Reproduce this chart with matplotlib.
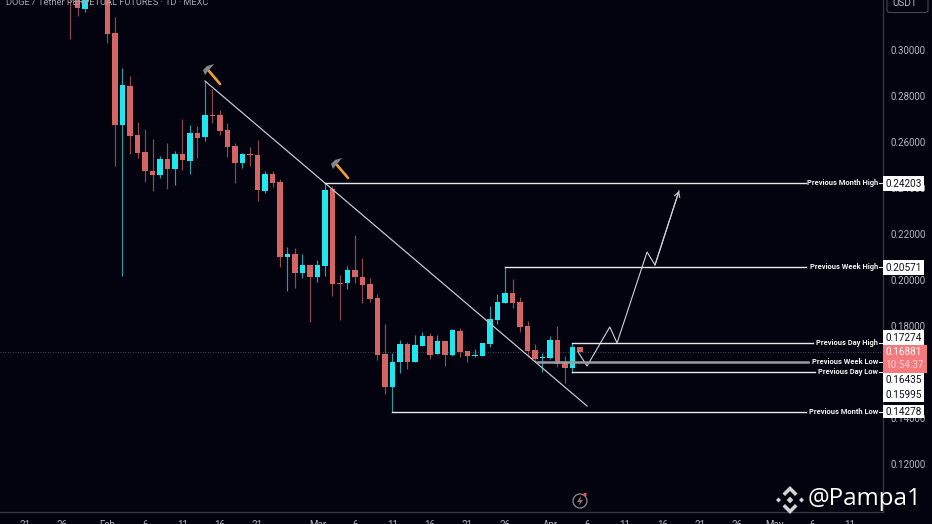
import numpy as np
import matplotlib
matplotlib.use("Agg")
import matplotlib.pyplot as plt
from matplotlib.patches import Polygon, Circle, Rectangle, FancyBboxPatch
from matplotlib.transforms import IdentityTransform, blended_transform_factory

W, H = 932, 524
BG = "#03030f"
days = list(range(6, 75))
opens = [.335,.325,.31783,.33,.345,.335,.30739,.26739,.28435,.26304,.25565,.24739,.24565,.25261,.24826,.25478,.25174,.26391,.26217,.27174,.27174,.26522,.25826,.25087,.25478,.25435,.23870,.24609,.24261,.21000,.21130,.20304,.20652,.20130,.20609,.23957,.19870,.19870,.20435,.20130,.19826,.19217,.16783,.15348,.16435,.17217,.16435,.17130,.17565,.16783,.17348,.16739,.17783,.16913,.16696,.16696,.17217,.18261,.19000,.19435,.19044,.18000,.16957,.16609,.16609,.17391,.16391,.16174,.17087]
highs = [.345,.33,.33,.35,.35,.34,.31435,.29217,.28870,.26870,.26565,.26130,.25391,.25957,.25609,.27000,.26739,.26696,.28652,.28304,.27391,.26826,.25957,.25522,.25783,.26087,.24739,.24739,.24391,.21435,.21391,.21130,.20652,.20870,.24203,.24087,.20217,.20609,.21957,.20957,.20087,.19391,.18087,.16826,.17391,.17304,.17609,.17739,.17696,.17609,.17348,.17870,.17913,.16913,.17000,.17261,.18870,.19391,.20571,.20044,.19261,.18217,.17217,.16826,.17565,.18000,.16696,.17274,.17087]
lows = [.30478,.31478,.31652,.328,.33,.30304,.24957,.20174,.25478,.25304,.24261,.23870,.24435,.23957,.24130,.24783,.24609,.25304,.26043,.26826,.26304,.25348,.24217,.24870,.24957,.23435,.23783,.24043,.20565,.19522,.19652,.20087,.18174,.19913,.20174,.19304,.18261,.19609,.19870,.19000,.19043,.16522,.15043,.14278,.15957,.16130,.16435,.17130,.16565,.16783,.16261,.16696,.16652,.16435,.16652,.16696,.17087,.18087,.19000,.18783,.17739,.16652,.16435,.16000,.16565,.16217,.15522,.15957,.16881]
closes = [.325,.31826,.325,.345,.335,.30696,.26739,.28478,.26261,.25522,.24739,.24565,.25261,.24826,.25478,.25217,.26391,.26174,.27174,.27130,.26478,.25783,.25087,.25478,.25435,.23913,.24609,.24217,.21000,.21130,.20304,.20652,.20130,.20652,.23913,.19826,.19826,.20435,.20130,.19783,.19174,.16739,.15348,.16435,.17217,.16435,.17174,.17565,.16739,.17348,.16739,.17826,.16870,.16696,.16710,.17261,.18304,.19044,.19435,.19000,.17957,.16913,.16565,.16652,.17391,.16348,.16174,.17087,.16881]

level_names = ["Previous Month High", "Previous Week High", "Previous Day High",
               "Previous Week Low", "Previous Day Low", "Previous Month Low"]
level_values = [.24203, .20571, .17274, .16435, .15995, .14278]
level_starts = [40, 64, 73, 68.2, 73, 49]
level_ends = [104.13, 104.13, 105.07, 104.37, 105.33, 104.13]

trend_days = [24, 74.94]
trend_vals = [.28652, .14522]
path_days = [73.74, 74.94, 77.97, 78.94, 82.94, 84.0, 87.2]
path_vals = [.16870, .16261, .17957, .17261, .21217, .20652, .23870]

y_ticks = [.12, .14, .18, .20, .22, .24, .26, .28, .30]
x_ticks = [0, 5, 11, 16, 21, 26, 31, 39, 44, 49, 54, 59, 64, 70, 75, 80, 85, 90, 95, 100, 105, 110]
x_labels = ["21", "26", "Feb", "6", "11", "16", "21", "Mar", "6", "11", "16", "21", "26",
            "Apr", "6", "11", "16", "21", "26", "May", "6", "11"]
last_price = .16881
countdown = "10:54:37"

fig = plt.figure(figsize=(W / 100, H / 100), dpi=100, facecolor=BG)
ax = fig.add_axes([0, 12 / H, 883 / W, 512 / H], facecolor=BG)

CY, CYW = "#1fe7ef", "#2a9ca4"
RD, RDW = "#d56464", "#8c4c4e"
o, h, l, c = map(np.array, (opens, highs, lows, closes))
up = c >= o
d = np.array(days)
ax.vlines(d[up], l[up], h[up], color=CYW, lw=0.85, zorder=2)
ax.vlines(d[~up], l[~up], h[~up], color=RDW, lw=0.85, zorder=2)
bot = np.minimum(o, c)
ht = np.maximum(np.abs(c - o), 0.0006)
ax.bar(d, ht, 0.7, bottom=bot, color=[CY if u else RD for u in up], lw=0, zorder=3)

ax.axhline(last_price, color="#6a5a60", lw=0.6, ls=(0, (1, 2)), zorder=1)
ax.plot(trend_days, trend_vals, color="#c4c6cc", lw=0.9, zorder=4)
ax.plot(path_days, path_vals, color="#d0d2d6", lw=0.8, zorder=4)
ax.annotate("", xy=(path_days[-1], path_vals[-1]), xytext=(path_days[-2], path_vals[-2]),
            arrowprops=dict(arrowstyle="->,head_length=0.35,head_width=0.2", color="#d0d2d6", lw=0.8, shrinkA=0, shrinkB=0))

trans = blended_transform_factory(IdentityTransform(), ax.transData)
for name, v, s, e in zip(level_names, level_values, level_starts, level_ends):
    thick = name == "Previous Week Low"
    ax.plot([s, e], [v, v], color="#9a9ca2" if thick else "#e8e8ea", lw=1.8 if thick else 1.0, zorder=4)
    ax.text(878, v, name, transform=trans, ha="right", va="center", color="#f4f4f4",
            fontsize=5.4, fontweight="bold", family="Roboto", zorder=6)
    ax.plot([879, 883], [v, v], transform=trans, color="#e8e8ea", lw=0.8, zorder=6, clip_on=False)
ax.set_xlim(-25 / 7.5, (883 - 25) / 7.5)
ax.set_ylim(.32174 - 512 / 2300, .32174)

for sp in ("top", "left"):
    ax.spines[sp].set_visible(False)
for sp in ("bottom", "right"):
    ax.spines[sp].set_color("#363943")
    ax.spines[sp].set_linewidth(0.9)
ax.yaxis.tick_right()
ax.set_yticks(y_ticks, [f"{v:.5f}" for v in y_ticks])
ax.set_xticks(x_ticks, x_labels)
ax.tick_params(axis="y", length=0, pad=5.5, labelsize=7.0, labelcolor="#b4b6bd", labelfontfamily="Roboto")
ax.tick_params(axis="x", length=0, pad=5.5, labelsize=7.0, labelcolor="#b4b6bd", labelfontfamily="Roboto")

def px(x, y):
    return (x, H - y)

def poly(pts, color, z=7):
    fig.add_artist(Polygon([px(*p) for p in pts], closed=True, transform=IdentityTransform(),
                           facecolor=color, edgecolor="none", zorder=z))

def box(x0, y0, x1, y1, color):
    fig.add_artist(Rectangle(px(x0, y1), x1 - x0, y1 - y0, transform=IdentityTransform(),
                             facecolor=color, edgecolor="none", zorder=5))

def label(x, y, s, color, size=7.2, weight="normal", fam="Roboto", ha="center", z=6):
    fig.text(x / W, 1 - y / H, s, color=color, fontsize=size, fontweight=weight, family=fam,
             ha=ha, va="center", zorder=z)

box(883, 176, 924, 191, "white"); label(904, 184, "0.24203", "#101018")
box(883, 260, 924, 275, "white"); label(904, 268, "0.20571", "#101018")
box(883, 330, 924, 345, "white"); label(904, 338, "0.17274", "#101018")
box(883, 373, 924, 402, "white"); label(904, 380, "0.16435", "#101018"); label(904, 395, "0.15995", "#101018")
box(883, 405, 924, 418, "white"); label(904, 412, "0.14278", "#101018")
box(883, 345, 927, 373, "#f5797c")
label(904, 352, f"{last_price:.5f}", "white"); label(904, 365, countdown, "#ffd0d0")

# USDT chip
fig.add_artist(FancyBboxPatch((887, H - 12.5), 41, 20, boxstyle="round,pad=0,rounding_size=2.5",
                              transform=IdentityTransform(), facecolor=BG, edgecolor="#45474f", lw=0.8, zorder=5))
label(905, 3, "USDT", "#b4b6bd", size=7.2)

# title, clipped by the top edge
label(6, 2.5, "DOGE / Tether PERPETUAL FUTURES · 1D · MEXC", "#a4a6ad", size=6.7, ha="left")

# hammers
def hammer(cx, cy):
    fig.add_artist(plt.Line2D([cx - 3, cx + 8], [H - cy + 3, H - cy - 10], transform=IdentityTransform(),
                              color="#f0a033", lw=1.9, solid_capstyle="round", zorder=7))
    poly([(cx - 9, cy - 4), (cx - 5, cy - 8), (cx + 2, cy - 10), (cx - 2, cy - 5), (cx - 4, cy - 3), (cx - 7, cy + 1)], "#83868d", z=8)

hammer(212, 74)
hammer(340, 168)

# lightning badge
fig.add_artist(Circle(px(580, 501), 7, transform=IdentityTransform(), facecolor="none", edgecolor="#8a8c92", lw=0.9, zorder=7))
fig.add_artist(Circle(px(585, 494.5), 1.7, transform=IdentityTransform(), facecolor="#e8584f", edgecolor="none", zorder=8))
poly([(581, 496), (577, 502), (580, 502), (578.5, 506), (583, 500), (580.5, 500)], "#a06a6c")

# watermark
lg = "#d4d4d6"
cx, cy = 790, 500
poly([(cx, cy - 3.4), (cx + 3.4, cy), (cx, cy + 3.4), (cx - 3.4, cy)], lg)
poly([(cx - 14, cy), (cx - 11.5, cy - 2.5), (cx - 9, cy), (cx - 11.5, cy + 2.5)], lg)
poly([(cx + 14, cy), (cx + 11.5, cy - 2.5), (cx + 9, cy), (cx + 11.5, cy + 2.5)], lg)
poly([(cx, cy - 14), (cx + 7.5, cy - 6.5), (cx + 5, cy - 4), (cx, cy - 9), (cx - 5, cy - 4), (cx - 7.5, cy - 6.5)], lg)
poly([(cx, cy + 14), (cx + 7.5, cy + 6.5), (cx + 5, cy + 4), (cx, cy + 9), (cx - 5, cy + 4), (cx - 7.5, cy + 6.5)], lg)
label(808, 499, "@Pampa1", "white", size=17.4, fam="Open Sans", ha="left", z=8)

fig.savefig("out.png", dpi=100, facecolor=BG)
